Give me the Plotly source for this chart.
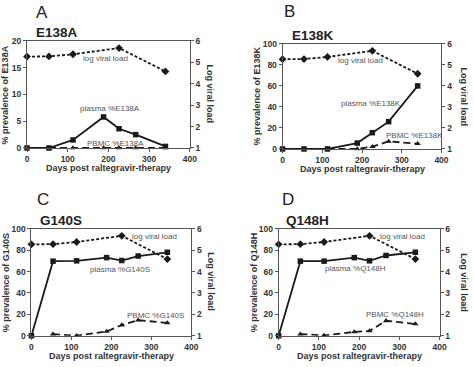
import plotly.graph_objects as go

W, H = 474, 367

days = [0, 54, 113, 188, 226, 267, 340]
vl_days = [0, 54, 113, 226, 340]
pbmc_days = [54, 113, 188, 226, 267, 340]
pbmc_days_b = [113, 188, 226, 267, 340]

log_viral_load = [5.27, 5.28, 5.38, 5.67, 4.58]

plasma_E138A = [0, 0, 1.5, 5.8, 3.6, 2.5, 0.3]
pbmc_E138A = [0, 0, 0, 0, 0, 0]
plasma_E138K = [0, 0, 0, 5.6, 15.5, 26, 60]
pbmc_E138K = [0, 0, 2.2, 7.2, 5]
plasma_G140S = [0, 69.7, 70, 73, 70.3, 74.5, 78]
pbmc_G140S = [1.5, 0, 4, 10, 14.5, 12]
plasma_Q148H = [0, 69.7, 69.7, 73, 70, 75, 78]
pbmc_Q148H = [1.5, 0.3, 3.6, 4.5, 14, 11]

mutations = ["E138A", "E138K", "G140S", "Q148H"]
letters = ["A", "B", "C", "D"]
left_max = [20, 100, 100, 100]
left_ticks = [[0, 5, 10, 15, 20], [0, 20, 40, 60, 80, 100], [0, 20, 40, 60, 80, 100], [0, 20, 40, 60, 80, 100]]
x_ticks = [0, 100, 200, 300, 400]
vl_ticks = [1, 2, 3, 4, 5, 6]

plasma_data = [plasma_E138A, plasma_E138K, plasma_G140S, plasma_Q148H]
pbmc_data = [(pbmc_days, pbmc_E138A), (pbmc_days_b, pbmc_E138K), (pbmc_days, pbmc_G140S), (pbmc_days, pbmc_Q148H)]

# layout in pixels: (left, right, top, bottom)
boxes = [(25.5, 191.5, 37, 147), (286, 448, 40, 148), (30, 193, 230, 340), (282, 446, 230, 340)]
left_title_x = [4, 260, 4, 257]
right_title_x = [212, 471, 213, 471]
letter_pos = [(41, 8), (293, 7), (42, 200), (292, 200)]
title_pos = [(33, 28), (294, 31), (37, 222), (287, 222)]

# label positions (data coords on left axis)
label_pos = [
    [(193, 16.7), (205, 7.4), (217, 0.8)],
    [(197, 84), (222, 43.6), (331, 12.7)],
    [(307, 92.4), (221, 62), (311, 19)],
    [(309, 93), (191, 63), (289, 19.7)],
]

FONT = "Liberation Sans, Arial, sans-serif"
TXT = "#333333"
LINE = "#1a1a1a"

def px(x):
    return x / W

def py(y):
    return 1 - y / H

fig = go.Figure()
layout = dict(
    width=W, height=H, margin=dict(l=0, r=0, t=0, b=0),
    paper_bgcolor="white", plot_bgcolor="white", showlegend=False,
    font=dict(family=FONT, color=TXT),
)
annotations = []

for i in range(4):
    n = i + 1
    xa = "x" if n == 1 else f"x{n}"
    yl_n = 2 * i + 1
    yr_n = 2 * i + 2
    yl = "y" if yl_n == 1 else f"y{yl_n}"
    yr = f"y{yr_n}"
    l, r, t, b = boxes[i]

    layout["xaxis" if n == 1 else f"xaxis{n}"] = dict(
        domain=[px(l), px(r)], anchor=yl, range=[0, 400], tickvals=x_ticks,
        showline=True, linecolor="#555", linewidth=1, mirror=True,
        ticks="outside", ticklen=3, tickcolor="#555", showgrid=False, zeroline=False,
        tickfont=dict(size=8.5, family=FONT, color=TXT, weight="bold"),
    )
    layout["yaxis" if yl_n == 1 else f"yaxis{yl_n}"] = dict(
        domain=[py(b), py(t)], anchor=xa, range=[0, left_max[i]], tickvals=left_ticks[i],
        showline=True, linecolor="#555", linewidth=1,
        ticks="outside", ticklen=3, tickcolor="#555", showgrid=False, zeroline=False,
        tickfont=dict(size=8.5, family=FONT, color=TXT, weight="bold"),
    )
    layout[f"yaxis{yr_n}"] = dict(
        domain=[py(b), py(t)], anchor=xa, overlaying=yl, side="right",
        range=[1, 6], tickvals=vl_ticks,
        showline=True, linecolor="#555", linewidth=1,
        ticks="outside", ticklen=3, tickcolor="#555", showgrid=False, zeroline=False,
        tickfont=dict(size=8.5, family=FONT, color=TXT, weight="bold"),
    )

    # viral load (right axis)
    fig.add_trace(go.Scatter(
        x=vl_days, y=log_viral_load, xaxis=xa, yaxis=yr, mode="lines+markers",
        line=dict(color=LINE, width=1.8, dash="3px,2px"),
        marker=dict(symbol="diamond", size=6, color=LINE), cliponaxis=False,
    ))
    # plasma
    fig.add_trace(go.Scatter(
        x=days, y=plasma_data[i], xaxis=xa, yaxis=yl, mode="lines+markers",
        line=dict(color=LINE, width=1.8),
        marker=dict(symbol="square", size=5.5, color=LINE), cliponaxis=False,
    ))
    # PBMC
    pdays, pvals = pbmc_data[i]
    fig.add_trace(go.Scatter(
        x=pdays, y=pvals, xaxis=xa, yaxis=yl, mode="lines+markers",
        line=dict(color=LINE, width=1.8, dash="7px,4px"),
        marker=dict(symbol="triangle-up", size=5.5, color=LINE), cliponaxis=False,
    ))

    labels = ["log viral load", f"plasma %{mutations[i]}", f"PBMC %{mutations[i]}"]
    for (lx, ly), txt in zip(label_pos[i], labels):
        annotations.append(dict(
            x=lx, y=ly, xref=xa, yref=yl, text=txt, showarrow=False,
            font=dict(size=8, family=FONT, color="#555"), xanchor="center", yanchor="middle",
        ))

    # panel letter and mutation title
    lx0, ly0 = letter_pos[i]
    annotations.append(dict(
        x=px(lx0), y=py(ly0), xref="paper", yref="paper", text=letters[i], showarrow=False,
        font=dict(size=17, family=FONT, color="#222"), xanchor="center", yanchor="middle",
    ))
    tx0, ty0 = title_pos[i]
    annotations.append(dict(
        x=px(tx0), y=py(ty0), xref="paper", yref="paper", text=mutations[i], showarrow=False,
        font=dict(size=13.5, family=FONT, color="#222", weight="bold"), xanchor="left", yanchor="middle",
    ))
    # x title
    annotations.append(dict(
        x=px((l + r) / 2), y=py(b + 21), xref="paper", yref="paper",
        text="Days post raltegravir-therapy", showarrow=False,
        font=dict(size=9, family=FONT, color=TXT, weight="bold"), xanchor="center", yanchor="middle",
    ))
    # left y title
    annotations.append(dict(
        x=px(left_title_x[i]), y=py((t + b) / 2), xref="paper", yref="paper",
        text=f"% prevalence of {mutations[i]}", showarrow=False, textangle=-90,
        font=dict(size=9, family=FONT, color=TXT, weight="bold"), xanchor="center", yanchor="middle",
    ))
    # right y title
    annotations.append(dict(
        x=px(right_title_x[i]), y=py((t + b) / 2), xref="paper", yref="paper",
        text="Log viral load", showarrow=False, textangle=90,
        font=dict(size=9, family=FONT, color=TXT, weight="bold"), xanchor="center", yanchor="middle",
    ))

layout["annotations"] = annotations
fig.update_layout(**layout)
fig.write_html(
    "out.html",
    config={"displayModeBar": False},
    post_script="document.body.style.margin='0';document.body.style.overflow='hidden';",
)
